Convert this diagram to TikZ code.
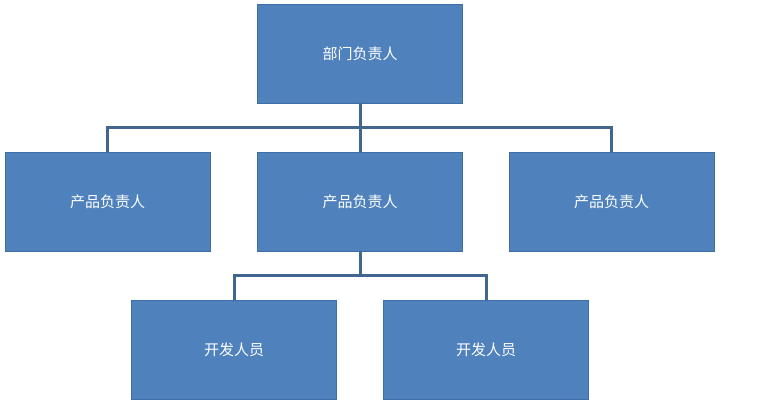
\documentclass[tikz,border=0pt]{standalone}
\usepackage{fontspec}
\newfontfamily\cjk{Noto Sans CJK SC}
\definecolor{boxfill}{HTML}{4F81BD}
\definecolor{boxline}{HTML}{3F6EA6}
\definecolor{conn}{HTML}{41678F}
\begin{document}
\begin{tikzpicture}[x=1pt,y=-1pt,
  box/.style={draw=boxline,line width=0.6pt,fill=boxfill,minimum width=205pt,minimum height=99pt,text=white,font=\cjk\fontsize{15}{18}\selectfont,inner sep=0pt},
  link/.style={draw=conn,line width=3pt}]
\useasboundingbox (0,0) rectangle (769,404);
\node[box] (top) at (360,53.5) {部门负责人};
\node[box] (l) at (107.5,201.5) {产品负责人};
\node[box] (m) at (360,201.5) {产品负责人};
\node[box] (r) at (611.5,201.5) {产品负责人};
\node[box] (a) at (234,349.5) {开发人员};
\node[box] (b) at (486,349.5) {开发人员};
\coordinate (j1) at (360,127);
\coordinate (j2) at (360,275);
\draw[link] (top.south) -- (j1);
\draw[link] (j1) -- (m.north);
\draw[link] (l.north) |- (j1) -| (r.north);
\draw[link] (m.south) -- (j2);
\draw[link] (a.north) |- (j2) -| (b.north);
\end{tikzpicture}
\end{document}
